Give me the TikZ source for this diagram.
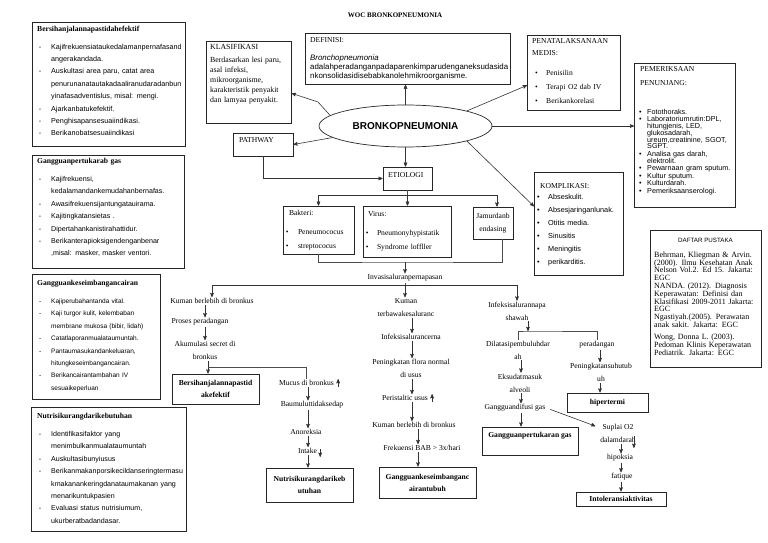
\documentclass[tikz,border=0pt]{standalone}
\usepackage{fontspec}
\setmainfont{Liberation Serif}
\setsansfont{Liberation Sans}
\usetikzlibrary{arrows, shapes.geometric}

% dash and bullet items for the boxes
\newcommand{\dl}[1]{\par\noindent\llap{-\hskip 10pt}#1}
\newcommand{\bl}[2][9pt]{\par\noindent\llap{\textbullet\hskip #1}#2}
\newcommand{\lhead}[1]{{\rmfamily\bfseries\fontsize{7.6}{12}\selectfont #1\par}\vspace{5.6pt}\leftskip=14pt }

\begin{document}
\begin{tikzpicture}[x=1pt, y=-1pt, >=stealth']
	\tikzstyle{frame}=[draw=black!85, line width=0.7pt, inner sep=0pt, anchor=north west]
	\tikzstyle{tbox}=[draw=black!85, line width=0.7pt, align=left, inner ysep=0pt]
	\tikzstyle{listtext}=[anchor=north west, inner sep=0pt, text width=160pt, align=left, font=\sffamily\fontsize{7.2}{12.4}\selectfont]
	\tikzstyle{boxtext}=[anchor=north west, inner sep=0pt, align=left]
	\tikzstyle{flow}=[inner sep=1pt, align=center, font=\fontsize{7.6}{13}\selectfont]
	\tikzstyle{outbox}=[draw=black!85, line width=1pt, inner sep=1pt, align=center, font=\bfseries\fontsize{7.6}{12}\selectfont]
	\tikzstyle{arr}=[->, draw=black!80, line width=0.6pt]
	\tikzstyle{ln}=[draw=black!70, line width=0.6pt]

	\fill[white] (0,0) rectangle (768,543);
	\useasboundingbox (0,0) rectangle (768,543);

	\node[font=\bfseries\fontsize{7}{8}\selectfont] (title) at (395,15) {WOC BRONKOPNEUMONIA};

	% left column
	\node[frame, minimum width=153pt, minimum height=124pt] (bjnbox) at (32,22) {};
	\node[listtext] (bjnlist) at (37,25.5) {\lhead{Bersihanjalannapastidahefektif}
		\dl{Kajifrekuensiataukedalamanpernafasand\\angerakandada.}
		\dl{Auskultasi area paru, catat area\\penurunanatautakadaaliranudaradanbun\\yinafasadventislus, misal: mengi.}
		\dl{Ajarkanbatukefektif.}
		\dl{Penghisapansesuaiindikasi.}
		\dl{Berikanobatsesuaiindikasi}\par};

	\node[frame, minimum width=152pt, minimum height=113pt] (gptbox) at (32,155) {};
	\node[listtext, font=\sffamily\fontsize{7.1}{12.4}\selectfont] (gptlist) at (37,158) {\lhead{Gangguanpertukarab gas}
		\dl{Kajifrekuensi,\\kedalamandankemudahanbernafas.}
		\dl{Awasifrekuensijantungatauirama.}
		\dl{Kajitingkatansietas .}
		\dl{Dipertahankanistirahattidur.}
		\dl{Berikanterapioksigendenganbenar\\,misal: masker, masker ventori.}\par};

	\node[frame, minimum width=128pt, minimum height=125pt] (gkcbox) at (32,274) {};
	\node[listtext, font=\sffamily\fontsize{6.5}{12.4}\selectfont] (gkclist) at (37,280) {\lhead{Gangguankeseimbangancairan}
		\dl{Kajiperubahantanda vital.}
		\dl{Kaji turgor kulit, kelembaban\\membrane mukosa (bibir, lidah)}
		\dl{Catatlaporanmualataumuntah.}
		\dl{Pantaumasukandankeluaran,\\hitungkeseimbangancairan.}
		\dl{Berikancairantambahan IV\\sesuaikeperluan}\par};

	\node[frame, minimum width=155pt, minimum height=124pt] (nkbbox) at (31,407) {};
	\node[listtext, font=\sffamily\fontsize{7.1}{12.4}\selectfont] (nkblist) at (37,413) {\lhead{Nutrisikurangdarikebutuhan}
		\dl{Identifikasifaktor yang\\menimbulkanmualataumuntah}
		\dl{Auskultasibunyiusus}
		\dl{Berikanmakanporsikecildanseringtermasu\\kmakanankeringdanataumakanan yang\\menarikuntukpasien}
		\dl{Evaluasi status nutrisiumum,\\ukurberatbadandasar.}\par};

	% upper part
	\node[frame, minimum width=85pt, minimum height=82pt] (klabox) at (206,41) {};
	\node[boxtext, text width=84pt, font=\fontsize{7.8}{10}\selectfont] (klatext) at (210,44.5) {KLASIFIKASI\par\vspace{3pt}Berdasarkan lesi paru,\\asal infeksi,\\mikroorganisme,\\karakteristik penyakit\\dan lamyaa penyakit.};

	\node[frame, minimum width=205pt, minimum height=51pt] (defbox) at (305,33) {};
	\node[boxtext, text width=205pt, font=\sffamily\fontsize{7.9}{8.7}\selectfont] (deftext) at (310,37.5) {\lineskiplimit=-5pt
		{\rmfamily\fontsize{7.6}{12}\selectfont DEFINISI:\par}\vspace{9.3pt}
		\textit{Bronchopneumonia}\\adalahperadanganpadaparenkimparudenganeksudasida\\nkonsolidasidisebabkanolehmikroorganisme.};

	\node[frame, minimum width=93pt, minimum height=75pt] (penbox) at (527,35) {};
	\node[boxtext, text width=90pt, font=\fontsize{7.6}{14}\selectfont] (pentext) at (532,38.5) {PENATALAKSANAAN\\[-2pt]MEDIS:\par\vspace{6pt}\leftskip=14pt
		\bl[8.5pt]{Penisilin}\bl[8.5pt]{Terapi O2 dab IV}\bl[8.5pt]{Berikankorelasi}\par};

	\node[frame, minimum width=101pt, minimum height=144pt] (pembox) at (634,63) {};
	\node[boxtext, text width=100pt, font=\sffamily\fontsize{7.2}{6.8}\selectfont] (pemtext) at (640,66) {\lineskiplimit=-5pt \parskip=0.7pt
		{\rmfamily\fontsize{7.6}{14}\selectfont PEMERIKSAAN\\PENUNJANG:\par}\vspace{21.5pt}\leftskip=7pt
		\bl[5.5pt]{Fotothoraks.}
		\bl[5.5pt]{Laboratoriumrutin:DPL,\newline hitungjenis, LED,\newline glukosadarah,\newline ureum,creatinine, SGOT,\newline SGPT.}
		\bl[5.5pt]{Analisa gas darah,\newline elektrolit.}
		\bl[5.5pt]{Pewarnaan gram sputum.}
		\bl[5.5pt]{Kultur sputum.}
		\bl[5.5pt]{Kulturdarah.}
		\bl[5.5pt]{Pemeriksaanserologi.}\par};

	\node[frame, minimum width=89pt, minimum height=103pt] (kombox) at (534,172) {};
	\node[boxtext, text width=88pt, font=\sffamily\fontsize{7.3}{13}\selectfont] (komtext) at (540,183.5) {{\rmfamily\fontsize{7.6}{12}\selectfont KOMPLIKASI:\par}\vspace{-2.3pt}\leftskip=8pt
		\bl[8.5pt]{Abseskulit.}\bl[8.5pt]{Absesjaringanlunak.}\bl[8.5pt]{Otitis media.}\bl[8.5pt]{Sinusitis}\bl[8.5pt]{Meningitis}\bl[8.5pt]{perikarditis.}\par};

	\node[frame, minimum width=111pt, minimum height=137pt] (dpbox) at (650,230) {};
	\node[anchor=north, inner sep=0pt, font=\sffamily\fontsize{6.2}{7}\selectfont] (dptitle) at (705.5,238) {DAFTAR PUSTAKA};
	\node[boxtext, text width=110pt, font=\fontsize{8}{7.8}\selectfont] (dptext) at (654,251.5) {\lineskiplimit=-5pt
		Behrman, Kliegman \& Arvin.\\(2000). Ilmu Kesehatan Anak\\Nelson Vol.2. Ed 15. Jakarta:\\EGC\\NANDA. (2012). Diagnosis\\Keperawatan: Definisi dan\\Klasifikasi 2009-2011 Jakarta:\\EGC\\Ngastiyah.(2005). Perawatan\\anak sakit. Jakarta: EGC\\[4.2pt]Wong, Donna L. (2003).\\Pedoman Klinis Keperawatan\\Pediatrik. Jakarta: EGC};

	% core and causes
	\node[draw=black!85, ellipse, line width=0.7pt, minimum width=173pt, minimum height=42pt, inner sep=0pt, font=\sffamily\bfseries\fontsize{10}{12}\selectfont] (ell) at (405.5,126) {BRONKOPNEUMONIA};
	\node[tbox, minimum width=60pt, minimum height=23pt, text width=48pt, inner xsep=6pt, text depth=10pt, font=\fontsize{7.6}{12}\selectfont] (pathbox) at (263,144.5) {PATHWAY};
	\node[tbox, minimum width=49pt, minimum height=23pt, text width=39pt, inner xsep=5pt, text depth=7pt, font=\fontsize{7.6}{12}\selectfont] (etibox) at (407.5,178.5) {ETIOLOGI};
	\node[tbox, minimum width=71pt, minimum height=48pt, text width=59pt, inner xsep=6pt, font=\fontsize{7.6}{14}\selectfont] (bak) at (318.5,230) {Bakteri:\par\vspace{5pt}\leftskip=9pt \bl[9.5pt]{Peneumococus}\bl[9.5pt]{streptococus}\par};
	\node[tbox, minimum width=88pt, minimum height=51pt, text width=78pt, inner xsep=5pt, font=\fontsize{7.6}{14}\selectfont] (vir) at (407,231.5) {Virus:\par\vspace{5pt}\leftskip=9pt \bl[8.5pt]{Pneumonyhypistatik}\bl[8.5pt]{Syndrome loffller}\par};
	\node[tbox, align=center, minimum width=40pt, minimum height=32pt, inner xsep=2pt, font=\fontsize{7.6}{13}\selectfont] (jam) at (493,223) {Jamurdanb\\endasing};
	\node[flow] (inv) at (405,278) {Invasisaluranpernapasan};

	% pathway chains
	\node[flow] (kb1) at (212,301) {Kuman berlebih di bronkus};
	\node[flow] (pp) at (200,322) {Proses peradangan};
	\node[flow] (akb) at (205,350.5) {Akumulasi secret di\\bronkus};
	\node[outbox, minimum width=87pt, minimum height=30pt] (bjnout) at (215.5,389) {Bersihanjalannapastid\\akefektif};
	\node[flow] (muc) at (306.5,383) {Mucus di bronkus};
	\node[flow] (baum) at (312,405) {Baumuluttidaksedap};
	\node[flow] (anor) at (306,432) {Anoreksia};
	\node[flow] (intk) at (307.5,451) {Intake};
	\node[outbox, minimum width=87pt, minimum height=34pt] (nkbout) at (309.5,485) {Nutrisikurangdarikeb\\utuhan};

	\node[flow] (km) at (406,307.5) {Kuman\\terbawakesaluranc};
	\node[flow] (isc) at (411,337) {Infeksisalurancerna};
	\node[flow] (pfn) at (411,368.5) {Peningkatan flora normal\\di usus};
	\node[flow] (pu) at (405,398) {Peristaltic usus};
	\node[flow] (kb2) at (414,425) {Kuman berlebih di bronkus};
	\node[flow] (fb) at (422,448) {Frekuensi BAB > 3x/hari};
	\node[outbox, minimum width=97pt, minimum height=31pt] (gkcout) at (427.5,482.5) {Gangguankeseimbanganc\\airantubuh};

	\node[flow] (isn) at (517,311) {Infeksisalurannapa\\shawah};
	\node[flow] (dil) at (518,350) {Dilatasipembuluhdar\\ah};
	\node[flow] (eks) at (520,383) {Eksudatmasuk\\alveoli};
	\node[flow] (gdg) at (515,408) {Gangguandifusi gas};
	\node[outbox, minimum width=96pt, minimum height=28pt, text depth=12pt] (gptout) at (530,441) {Gangguanpertukaran gas};

	\node[flow] (per) at (597,345) {peradangan};
	\node[flow] (pst) at (601,372.5) {Peningkatansuhutub\\uh};
	\node[outbox, minimum width=81pt, minimum height=19pt] (hip) at (607.5,402.5) {hipertermi};
	\node[flow] (sup) at (618,433.5) {Suplai O2\\dalamdarah};
	\node[flow] (hipo) at (620,458) {hipoksia};
	\node[flow] (fat) at (622,477) {fatique};
	\node[outbox, minimum width=90pt, minimum height=14pt] (ita) at (621,499) {Intoleransiaktivitas};

	% connectors around the core
	\coordinate (kbend) at (318,102);
	\draw[arr] (ell.172) -- (kbend) -- ([yshift=-11pt]klabox.east);
	\draw[arr] (ell.north) -- (ell.north |- defbox.south);
	\draw[arr] (ell.north east) -- ([yshift=-12.5pt]penbox.west);
	\draw[arr] (ell.east) -- (ell.east -| pembox.west);
	\draw[arr] (ell.189) -- (pathbox.east);
	\draw[arr] (ell.south) -- (ell.south |- etibox.north);
	\draw[arr] (ell.south east) -- ([yshift=17.5pt]kombox.west);
	\draw[arr] (pathbox.south) |- (etibox.west);

	\coordinate (ebr) at (407.5,195);
	\draw[ln] (etibox.south) -- (ebr);
	\draw[arr] (ebr) -| (bak.north);
	\draw[arr] (ebr) -- (ebr |- vir.north);
	\draw[arr] (ebr) -| ([xshift=4pt]jam.north);
	\coordinate (ibr) at (405,262);
	\draw[ln] (bak.south) |- (ibr) -| ([xshift=9pt]jam.south);
	\draw[arr] (ibr) -- (inv.north);
	\coordinate (isp) at (405,285);
	\draw[ln] (inv.south) -- (isp);
	\draw[arr] (isp) -| (kb1.north);
	\draw[arr] (isp) -- (isp |- km.north);
	\draw[arr] (isp) -| (isn.north);

	% left chains
	\coordinate (colL) at (205,0);
	\coordinate (jb) at (208,367);
	\coordinate (colN) at (308,0);
	\draw[arr] (kb1.south -| colL) -- (pp.north -| colL);
	\draw[arr] (pp.south -| colL) -- (akb.north -| colL);
	\draw[arr] (akb.south -| jb) -- (bjnout.north -| jb);
	\draw[ln] (jb) -| (muc.north);
	\draw[arr] (muc.south -| colN) -- (baum.north -| colN);
	\draw[arr] (baum.south -| colN) -- (anor.north -| colN);
	\draw[arr] (anor.south -| colN) -- (intk.north -| colN);
	\draw[arr] (intk.south -| colN) -- (nkbout.north -| colN);
	\draw[arr] ([xshift=3pt]muc.south east) -- ([xshift=3pt]muc.north east);
	\draw[arr] ([xshift=2pt,yshift=-2pt]intk.north east) -- ([xshift=2pt,yshift=-2pt]intk.south east);

	% middle chain
	\coordinate (colM) at (412,0);
	\coordinate (colMM) at (418,0);
	\draw[arr] (km.south -| colM) -- (isc.north -| colM);
	\draw[arr] (isc.south -| colM) -- (pfn.north -| colM);
	\draw[arr] (pfn.south -| colM) -- (pu.north -| colM);
	\draw[arr] (pu.south -| colM) -- (kb2.north -| colM);
	\draw[arr] (kb2.south -| colMM) -- (fb.north -| colMM);
	\draw[arr] (fb.south -| colMM) -- (gkcout.north -| colMM);
	\draw[arr] ([xshift=3pt]pu.south east) -- ([xshift=3pt]pu.north east);

	% right chains
	\coordinate (jr) at (528,331);
	\coordinate (colR) at (521,0);
	\draw[arr] (isn.south -| jr) -- (jr);
	\draw[ln] (dil.north) |- (jr) -| (per.north);
	\draw[arr] (dil.south -| colR) -- (eks.north -| colR);
	\draw[arr] (eks.south -| colR) -- (gdg.north -| colR);
	\draw[arr] (gdg.south -| colR) -- (gptout.north -| colR);
	\draw[arr, shorten <=4pt, shorten >=4pt] (gdg.east) -- ([yshift=6pt]sup.west);
	\coordinate (colP) at (600,0);
	\coordinate (colS) at (621,0);
	\draw[arr] (per.south -| colP) -- (pst.north -| colP);
	\draw[arr] (pst.south -| colP) -- (hip.north -| colP);
	\draw[arr] (sup.south -| colS) -- (hipo.north -| colS);
	\draw[arr] (hipo.south -| colS) -- (fat.north -| colS);
	\draw[arr] (fat.south -| colS) -- (ita.north -| colS);
	\draw[arr] ([xshift=-3pt,yshift=8pt]sup.south east) -- ([xshift=-3pt,yshift=-4pt]sup.south east);
\end{tikzpicture}
\end{document}
